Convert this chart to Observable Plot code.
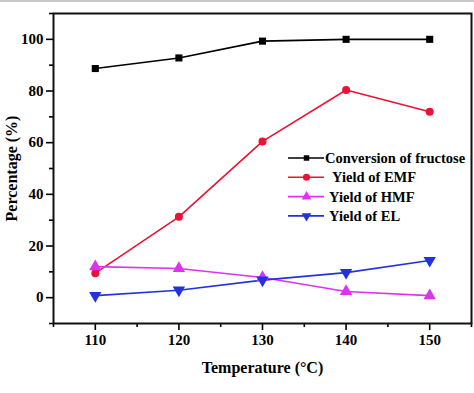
<!DOCTYPE html>
<html>
<head>
<meta charset="utf-8">
<script src="https://cdn.jsdelivr.net/npm/d3@7"></script>
<script src="https://cdn.jsdelivr.net/npm/@observablehq/plot@0.6"></script>
<style>
  html, body { margin: 0; padding: 0; background: #fff; }
  #wrap { position: relative; width: 474px; height: 393px; }
  #topband { position: absolute; left: 0; top: 0; width: 474px; height: 2px; background: #c8c8c8; }
  #legend { position: absolute; left: 0; top: 0; pointer-events: none; }
</style>
</head>
<body>
<div id="wrap"><div id="topband"></div></div>
<script>
const temps = [110, 120, 130, 140, 150];
const conversion = [88.7, 92.8, 99.3, 100, 100];
const emf = [9.5, 31.3, 60.5, 80.4, 72.0];
const hmf = [12.0, 11.3, 7.8, 2.4, 0.8];
const el = [0.8, 2.9, 6.8, 9.7, 14.4];

const seriesNames = ["Conversion of fructose", " Yield of EMF", "Yield of HMF", "Yield of EL"];
const seriesColors = ["#000000", "#ee1133", "#dd33ee", "#2233dd"];
const seriesSymbols = ["square", "circle", "triangle", "triangle"];
const seriesRotate = [0, 0, 0, 180];
const seriesValues = [conversion, emf, hmf, el];

const xMajor = [110, 120, 130, 140, 150];
const xMinor = [105, 115, 125, 135, 145, 155];
const yMajor = [0, 20, 40, 60, 80, 100];
const yMinor = [-10, 10, 30, 50, 70, 90, 110];

const rows = [];
seriesValues.forEach((vals, s) => vals.forEach((v, i) => rows.push({series: s, x: temps[i], y: v})));

const font = "'Liberation Serif', 'Times New Roman', serif";
const marks = [];
seriesValues.forEach((vals, s) => {
  const data = rows.filter(d => d.series === s);
  marks.push(Plot.line(data, {x: "x", y: "y", stroke: seriesColors[s], strokeWidth: 1.6}));
});
seriesValues.forEach((vals, s) => {
  const data = rows.filter(d => d.series === s);
  marks.push(Plot.dot(data, {x: "x", y: "y", fill: seriesColors[s], stroke: "none",
    symbol: seriesSymbols[s], rotate: seriesRotate[s], r: s === 0 ? 4 : (s === 1 ? 4 : 4.6)}));
});

const chart = Plot.plot({
  width: 474,
  height: 393,
  marginLeft: 53,
  marginTop: 13,
  marginRight: 3,
  marginBottom: 70,
  style: {fontFamily: font, background: "transparent", color: "#000"},
  x: {domain: [105, 155]},
  y: {domain: [-10, 110]},
  marks: [
    Plot.axisX(xMajor, {tickSize: 7, tickPadding: 4, fontSize: 15, fontWeight: "bold", strokeWidth: 1.6, label: null}),
    Plot.axisX(xMinor, {tickSize: 4, text: null, strokeWidth: 1.6, label: null}),
    Plot.axisY(yMajor, {tickSize: 7, tickPadding: 3, fontSize: 15, fontWeight: "bold", strokeWidth: 1.6, label: null}),
    Plot.axisY(yMinor, {tickSize: 4, text: null, strokeWidth: 1.6, label: null}),
    ...marks,
    Plot.frame({stroke: "#111", strokeWidth: 2}),
    Plot.text(["Temperature (°C)"], {frameAnchor: "bottom", dy: 44, textAnchor: "middle", lineAnchor: "middle", fontSize: 16, fontWeight: "bold", fill: "#000"}),
    Plot.text(["Percentage (%)"], {frameAnchor: "left", dx: -42, rotate: -90, textAnchor: "middle", lineAnchor: "middle", fontSize: 16, fontWeight: "bold", fill: "#000"})
  ]
});
document.getElementById("wrap").appendChild(chart);

// legend overlay
const legend = d3.select("#wrap").append("svg")
  .attr("id", "legend").attr("width", 474).attr("height", 393);
const legY0 = 158, legDy = 19.3;
const textX = [325, 329, 329, 329];
seriesNames.forEach((name, s) => {
  const y = legY0 + s * legDy;
  const g = legend.append("g");
  g.append("line").attr("x1", 288).attr("x2", 324).attr("y1", y).attr("y2", y)
    .attr("stroke", seriesColors[s]).attr("stroke-width", 1.6);
  const sym = {square: d3.symbolSquare, circle: d3.symbolCircle, triangle: d3.symbolTriangle}[seriesSymbols[s]];
  g.append("path").attr("d", d3.symbol(sym, s === 0 ? 30 : 40)())
    .attr("transform", `translate(306.5,${y}) rotate(${seriesRotate[s]})`)
    .attr("fill", seriesColors[s]);
  g.append("text").attr("x", textX[s]).attr("y", y).attr("dy", "0.35em")
    .attr("font-family", font).attr("font-weight", "bold").attr("font-size", 14.5)
    .attr("xml:space", "preserve").style("white-space", "pre")
    .text(name);
});
</script>
</body>
</html>
